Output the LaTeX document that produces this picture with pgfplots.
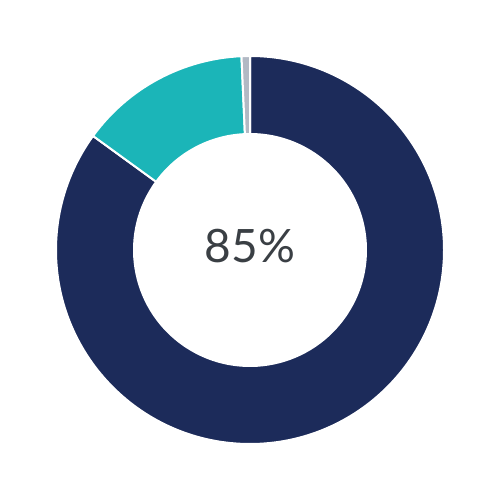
\documentclass[border=0pt]{standalone}
\usepackage{pgfplots}
\pgfplotsset{compat=1.18}
\usepackage{fontspec}
\setmainfont{Lato}

\definecolor{navy}{RGB}{28,43,90}
\definecolor{tealc}{RGB}{27,181,184}
\definecolor{slate}{RGB}{178,185,196}
\definecolor{labelc}{RGB}{58,63,68}

% slice: start share (%), share (%), colour
\newcommand{\slice}[3]{%
  \fill[#3, draw=white, line width=2pt, line join=round]
    (axis cs:{194*cos(90-3.6*#1)},{194*sin(90-3.6*#1)})
    arc[start angle={90-3.6*#1}, end angle={90-3.6*(#1+#2)}, radius=194]
    -- (axis cs:{116*cos(90-3.6*(#1+#2))},{116*sin(90-3.6*(#1+#2))})
    arc[start angle={90-3.6*(#1+#2)}, end angle={90-3.6*#1}, radius=116]
    -- cycle;}

\begin{document}
\begin{tikzpicture}
\begin{axis}[
  hide axis,
  x=1pt, y=1pt,
  xmin=-250, xmax=250,
  ymin=-250, ymax=250,
  clip=false,
]
\path (axis cs:-250,-250) rectangle (axis cs:250,250);
\slice{0}{85.0}{navy}
\slice{85.0}{14.3}{tealc}
\slice{99.3}{0.7}{slate}
\node[font=\fontsize{46}{50}\selectfont, text=labelc] at (axis cs:0,4) {85\%};
\end{axis}
\end{tikzpicture}
\end{document}
